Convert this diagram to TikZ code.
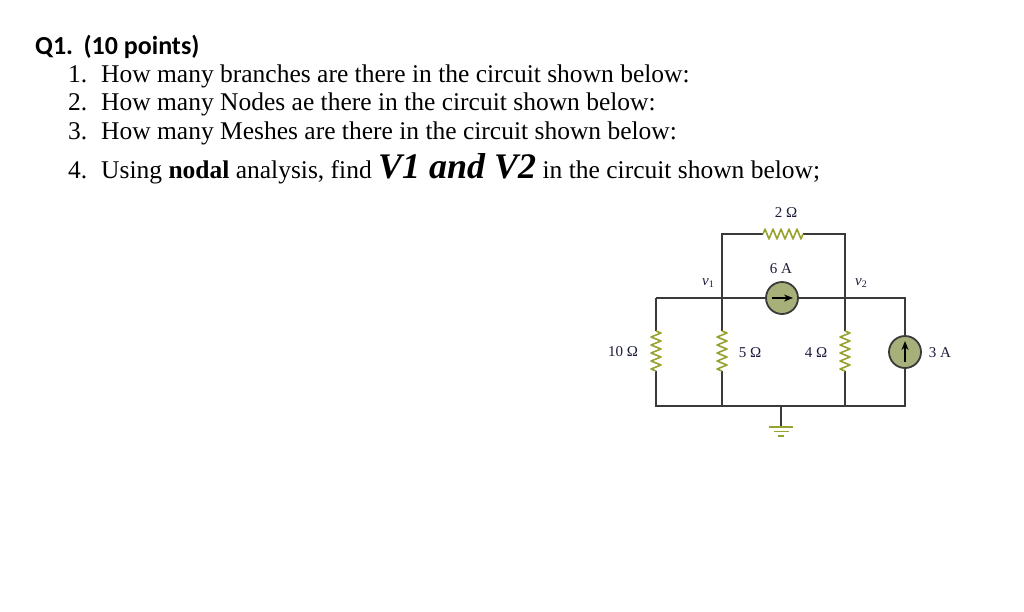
\documentclass[tikz,border=0pt]{standalone}
\usepackage{fontspec}
\setmainfont{Liberation Serif}
\newfontfamily\calibri{Carlito}
\usetikzlibrary{arrows.meta}
\definecolor{wirec}{HTML}{3A3A3A}
\definecolor{resc}{HTML}{98A22E}
\definecolor{srcfill}{HTML}{A8B07A}
\definecolor{lblc}{HTML}{1A1A3A}
\tikzset{
  wire/.style={draw=wirec, line width=1.6pt},
  zig/.style={draw=resc, line width=1.6pt, line join=round},
  srcbox/.style={circle, minimum size=32pt, inner sep=0pt, fill=srcfill, draw=wirec, line width=1.8pt},
  lbl/.style={inner sep=0pt, text=lblc, font=\fontsize{15}{17}\selectfont},
  txt/.style={anchor=base west, inner sep=0pt, text=black},
  pics/vres/.style={code={\draw[zig] (0,0) -- (5,2) -- (-5,6) -- (5,10) -- (-5,14) -- (5,18) -- (-5,22) -- (5,26) -- (-5,30) -- (5,34) -- (-5,38) -- (0,40);}},
  pics/hres/.style={code={\draw[zig] (0,0) -- (2,-5) -- (6,5) -- (10,-5) -- (14,5) -- (18,-5) -- (22,5) -- (26,-5) -- (30,5) -- (34,-5) -- (38,5) -- (40,0);}}
}
\begin{document}
\begin{tikzpicture}[x=1pt,y=-1pt]
\useasboundingbox (0,0) rectangle (1024,611);
% text
\node[txt, font=\calibri\bfseries\fontsize{26}{30}\selectfont] (q) at (35,54) {Q1.\hspace{0.4em}(10 points)};
\begin{scope}[font=\fontsize{25.5}{30}\selectfont]
\node[txt] (n1) at (68,82) {1.};
\node[txt] (t1) at (101,82) {How many branches are there in the circuit shown below:};
\node[txt] (n2) at (68,110) {2.};
\node[txt] (t2) at (101,110) {How many Nodes ae there in the circuit shown below:};
\node[txt] (n3) at (68,139) {3.};
\node[txt] (t3) at (101,139) {How many Meshes are there in the circuit shown below:};
\node[txt] (n4) at (68,178) {4.};
\node[txt] (t4) at (101,178) {Using \textbf{nodal} analysis, find {\fontsize{36}{40}\selectfont\bfseries\itshape V1 and V2} in the circuit shown below;};
\end{scope}
% circuit coordinates
\coordinate (tl) at (722,234);
\coordinate (tr) at (845,234);
\coordinate (r2a) at (763,234);
\coordinate (r2b) at (803,234);
\coordinate (ml) at (656,298);
\coordinate (v1) at (722,298);
\coordinate (v2) at (845,298);
\coordinate (mr) at (905,298);
\coordinate (bl) at (656,406);
\coordinate (b1) at (722,406);
\coordinate (bg) at (781,406);
\coordinate (b2) at (845,406);
\coordinate (br) at (905,406);
\coordinate (r10a) at (656,331);
\coordinate (r10b) at (656,371);
\coordinate (r5a) at (722,331);
\coordinate (r5b) at (722,371);
\coordinate (r4a) at (845,331);
\coordinate (r4b) at (845,371);
\coordinate (g) at (781,427);
\node[srcbox] (s6) at (782,298) {};
\node[srcbox] (s3) at (905,352) {};
% wires
\draw[wire] (v1) -- (tl) -- (r2a);
\draw[wire] (r2b) -- (tr) -- (v2);
\draw[wire] (ml) -- (v1) -- (s6.west);
\draw[wire] (s6.east) -- (v2) -- (mr) -- (s3.north);
\draw[wire] (s3.south) -- (br) -- (bl) -- (r10b);
\draw[wire] (r10a) -- (ml);
\draw[wire] (v1) -- (r5a);
\draw[wire] (r5b) -- (b1);
\draw[wire] (v2) -- (r4a);
\draw[wire] (r4b) -- (b2);
\draw[wire] (bg) -- (g);
% resistors
\pic at (r10a) {vres};
\pic at (r5a) {vres};
\pic at (r4a) {vres};
\pic at (r2a) {hres};
% ground
\draw[draw=resc, line width=1.5pt] ([xshift=-12pt]g) -- ([xshift=12pt]g);
\draw[draw=resc, line width=1.5pt] ([xshift=-7.5pt,yshift=-4.5pt]g) -- ([xshift=7.5pt,yshift=-4.5pt]g);
\draw[draw=resc, line width=1.5pt] ([xshift=-3pt,yshift=-9pt]g) -- ([xshift=3pt,yshift=-9pt]g);
% source arrows
\draw[line width=2pt, -{Stealth[length=9pt,width=7pt]}] ([xshift=-10pt]s6.center) -- ([xshift=11pt]s6.center);
\draw[line width=2pt, -{Stealth[length=9pt,width=7pt]}] ([yshift=-10pt]s3.center) -- ([yshift=11pt]s3.center);
% labels
\node[lbl] (l2) at (786,213) {2 Ω};
\node[lbl] (l6) at (781,269) {6 A};
\node[lbl] (l10) at (623,352) {10 Ω};
\node[lbl] (l5) at (750,353) {5 Ω};
\node[lbl] (l4) at (816,353) {4 Ω};
\node[lbl] (l3) at (940,353) {3 A};
\node[lbl] (lv1) at (708,283) {\textit{v}\raisebox{-2.5pt}{\fontsize{10}{11}\selectfont 1}};
\node[lbl] (lv2) at (861,283) {\textit{v}\raisebox{-2.5pt}{\fontsize{10}{11}\selectfont 2}};
\end{tikzpicture}
\end{document}
